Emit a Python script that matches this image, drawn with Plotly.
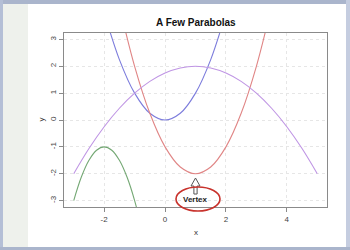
import plotly.graph_objects as go

# ---- data ----
blue_x = [-2, -1.5, -1, -0.5, 0, 0.5, 1, 1.5, 2]
blue_y = [4, 2.25, 1, 0.25, 0, 0.25, 1, 2.25, 4]

red_x = [-1.5, -1, -0.5, 0, 0.5, 1, 1.5, 2, 2.5, 3, 3.5]
red_y = [4.25, 2, 0.25, -1, -1.75, -2, -1.75, -1, 0.25, 2, 4.25]

purple_x = [-3, -2.5, -2, -1.5, -1, -0.5, 0, 0.5, 1, 1.5, 2, 2.5, 3, 3.5, 4, 4.5, 5]
purple_y = [-2, -1.0625, -0.25, 0.4375, 1, 1.4375, 1.75, 1.9375, 2,
            1.9375, 1.75, 1.4375, 1, 0.4375, -0.25, -1.0625, -2]

green_x = [-3, -2.75, -2.5, -2.25, -2, -1.75, -1.5, -1.25, -1, -0.75]
green_y = [-3, -2.125, -1.5, -1.125, -1, -1.125, -1.5, -2.125, -3, -4.125]

x_ticks = [-2, 0, 2, 4]
x_tick_labels = ["-2", "0", "2", "4"]
y_ticks = [-3, -2, -1, 0, 1, 2, 3]
y_tick_labels = ["-3", "-2", "-1", "0", "1", "2", "3"]
vertex = (1, -2)
title_text = "A Few Parabolas"
label_text = "Vertex"

# ---- layout geometry ----
W, H = 350, 250
L, R, T, B = 64, 23, 33, 43
pw, ph = W - L - R, H - T - B


def px(x):
    return (x - L) / pw


def py(y):
    return (H - B - y) / ph


fig = go.Figure()
series = [
    (blue_x, blue_y, "#7c7cdc"),
    (red_x, red_y, "#e08585"),
    (purple_x, purple_y, "#bf95e4"),
    (green_x, green_y, "#74a874"),
]
for xs, ys, c in series:
    fig.add_trace(go.Scatter(x=xs, y=ys, mode="lines",
                             line=dict(color=c, width=1.1, shape="spline"),
                             hoverinfo="skip", showlegend=False))

shapes = []
# page frame bands
frame = [
    (0, 0, W, 4, "#aab5cc"),          # top band
    (0, 0, 3, H, "#b4bfd6"),          # left band
    (3, 4, 28, 247, "#eef1ec"),       # left grey panel
    (346, 0, W, H, "#c5cde0"),        # right band
    (0, 247, W, H, "#aab5cc"),        # bottom band
]
for x0, y0, x1, y1, c in frame:
    shapes.append(dict(type="rect", xref="paper", yref="paper",
                       x0=px(x0), x1=px(x1), y0=py(y1), y1=py(y0),
                       fillcolor=c, line=dict(width=0), layer="below"))

# hollow arrow pointing at the vertex (data coords)
vx, vy = vertex
sx, sy = 2 / 30.5, 1 / 26.8  # units per pixel
tip = vy - 0.16
pts = [(0, 0), (4.5, 8), (1.6, 8), (1.6, 16), (-1.6, 16), (-1.6, 8), (-4.5, 8)]
path = "M " + " L ".join(f"{vx + dx * sx / 2},{tip - dy * sy}" for dx, dy in pts) + " Z"
shapes.append(dict(type="path", xref="x", yref="y", path=path,
                   line=dict(color="#555555", width=1), fillcolor="white"))

# red ellipse around label
cx, cy, ew, eh = 198, 199, 44, 24
shapes.append(dict(type="circle", xref="paper", yref="paper",
                   x0=px(cx - ew / 2), x1=px(cx + ew / 2),
                   y0=py(cy + eh / 2), y1=py(cy - eh / 2),
                   line=dict(color="#c8322c", width=1.6)))

annotations = [
    dict(x=vx, y=-2.95, xref="x", yref="y", text=f"<b>{label_text}</b>",
         showarrow=False, font=dict(size=8, color="#222222",
                                    family="Liberation Sans, Arial")),
    dict(x=px(195.5), y=py(15), xref="paper", yref="paper",
         text=f"<b>{title_text}</b>", showarrow=False,
         font=dict(size=10, color="#111111", family="Liberation Sans, Arial")),
    dict(x=px(195.5), y=py(239), xref="paper", yref="paper", text="x",
         showarrow=False, font=dict(size=8, color="#333333",
                                    family="Liberation Sans, Arial")),
    dict(x=px(34), y=py(120), xref="paper", yref="paper", text="y",
         showarrow=False, textangle=-90,
         font=dict(size=8, color="#333333", family="Liberation Sans, Arial")),
]

axis_common = dict(showline=True, mirror=True, linecolor="#8a8a8a", linewidth=1,
                   ticks="outside", ticklen=4, tickcolor="#8a8a8a",
                   showgrid=True, gridcolor="#e6e6e6", griddash="dot", gridwidth=1,
                   zeroline=False,
                   tickfont=dict(size=8, color="#444444",
                                 family="Liberation Sans, Arial"))

fig.update_layout(
    width=W, height=H,
    margin=dict(l=L, r=R, t=T, b=B),
    paper_bgcolor="white", plot_bgcolor="white",
    xaxis=dict(range=[-3.32, 5.32], tickvals=x_ticks, ticktext=x_tick_labels,
               **axis_common),
    yaxis=dict(range=[-3.24, 3.24], tickvals=y_ticks, ticktext=y_tick_labels,
               tickangle=-90, **axis_common),
    shapes=shapes, annotations=annotations,
)

fig.write_html("out.html")
